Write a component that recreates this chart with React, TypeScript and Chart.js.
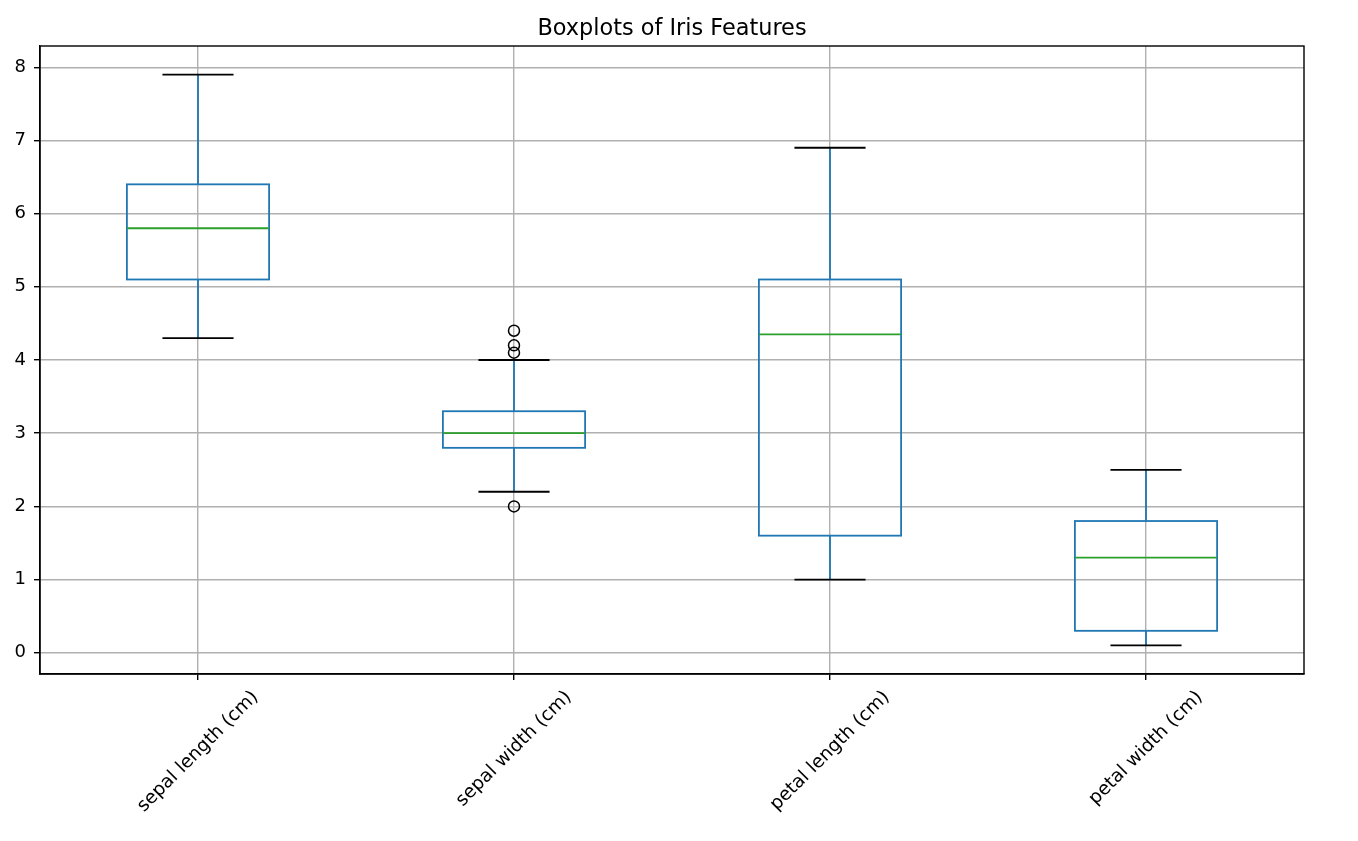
import { Chart, registerables, type Plugin } from "chart.js";
import { useEffect, useRef } from "react";

Chart.register(...registerables);

const features = ["sepal length (cm)", "sepal width (cm)", "petal length (cm)", "petal width (cm)"];
const positions = [1, 2, 3, 4];
const whiskerLow = [4.3, 2.2, 1.0, 0.1];
const q1 = [5.1, 2.8, 1.6, 0.3];
const medians = [5.8, 3.0, 4.35, 1.3];
const q3 = [6.4, 3.3, 5.1, 1.8];
const whiskerHigh = [7.9, 4.0, 6.9, 2.5];
const outlierPos = [2, 2, 2, 2];
const outlierValues = [4.4, 4.1, 4.2, 2.0];
const yTicks = [0, 1, 2, 3, 4, 5, 6, 7, 8];

const BOX_W = 0.45;
const CAP_W = 0.225;
const FONT = "DejaVu Sans";

export default function App() {
  const canvasRef = useRef<HTMLCanvasElement>(null);

  useEffect(() => {
    if (!canvasRef.current) return;

    const boxPlugin: Plugin = {
      id: "boxes",
      beforeDatasetsDraw(chart) {
        const { ctx, scales } = chart;
        const x = scales.x;
        const y = scales.y;
        ctx.save();
        positions.forEach((p, i) => {
          const cx = x.getPixelForValue(p);
          const bl = x.getPixelForValue(p - BOX_W / 2);
          const br = x.getPixelForValue(p + BOX_W / 2);
          const cl = x.getPixelForValue(p - CAP_W / 2);
          const cr = x.getPixelForValue(p + CAP_W / 2);
          const yq1 = y.getPixelForValue(q1[i]);
          const yq3 = y.getPixelForValue(q3[i]);
          const ylo = y.getPixelForValue(whiskerLow[i]);
          const yhi = y.getPixelForValue(whiskerHigh[i]);
          const ymed = y.getPixelForValue(medians[i]);
          ctx.lineWidth = 1.8;
          ctx.strokeStyle = "#1f77b4";
          // whiskers
          ctx.beginPath();
          ctx.moveTo(cx, yq3);
          ctx.lineTo(cx, yhi);
          ctx.moveTo(cx, yq1);
          ctx.lineTo(cx, ylo);
          ctx.stroke();
          // box
          ctx.strokeRect(bl, yq3, br - bl, yq1 - yq3);
          // caps
          ctx.strokeStyle = "#000000";
          ctx.beginPath();
          ctx.moveTo(cl, yhi);
          ctx.lineTo(cr, yhi);
          ctx.moveTo(cl, ylo);
          ctx.lineTo(cr, ylo);
          ctx.stroke();
          // median
          ctx.strokeStyle = "#2ca02c";
          ctx.beginPath();
          ctx.moveTo(bl, ymed);
          ctx.lineTo(br, ymed);
          ctx.stroke();
        });
        ctx.restore();
      },
      afterDraw(chart) {
        const { ctx, chartArea, scales } = chart;
        ctx.save();
        // frame
        ctx.strokeStyle = "#000000";
        ctx.lineWidth = 1.4;
        ctx.strokeRect(chartArea.left, chartArea.top, chartArea.right - chartArea.left, chartArea.bottom - chartArea.top);
        // rotated x labels, centred under the tick
        ctx.font = `18.5px "${FONT}"`;
        ctx.fillStyle = "#000000";
        ctx.textAlign = "center";
        ctx.textBaseline = "middle";
        const h = 21.5;
        positions.forEach((p, i) => {
          const w = ctx.measureText(features[i]).width;
          const bw = (w + h) / Math.SQRT2;
          const tx = scales.x.getPixelForValue(p);
          const ty = chartArea.bottom + 12.6 + bw / 2;
          ctx.save();
          ctx.translate(tx, ty);
          ctx.rotate(-Math.PI / 4);
          ctx.fillText(features[i], 0, 0);
          ctx.restore();
        });
        // title
        ctx.font = `22.4px "${FONT}"`;
        ctx.textBaseline = "alphabetic";
        ctx.fillText("Boxplots of Iris Features", (chartArea.left + chartArea.right) / 2, chartArea.top - 11);
        ctx.restore();
      },
    };

    const chart = new Chart(canvasRef.current, {
      type: "scatter",
      data: {
        datasets: [
          {
            label: "outliers",
            data: outlierPos.map((p, i) => ({ x: p, y: outlierValues[i] })),
            pointStyle: "circle",
            pointRadius: 5.5,
            pointBorderWidth: 1.5,
            pointBorderColor: "#000000",
            pointBackgroundColor: "rgba(0,0,0,0)",
          },
        ],
      },
      options: {
        responsive: true,
        maintainAspectRatio: false,
        animation: false,
        events: [],
        layout: { autoPadding: false, padding: { top: 46, right: 54, left: 0, bottom: 0 } },
        plugins: { legend: { display: false }, tooltip: { enabled: false }, title: { display: false } },
        scales: {
          x: {
            type: "linear",
            min: 0.5,
            max: 4.5,
            afterBuildTicks: (s) => {
              s.ticks = positions.map((v) => ({ value: v }));
            },
            afterFit: (s) => {
              s.height = 167;
            },
            ticks: { display: false },
            grid: { color: "#b0b0b0", lineWidth: 1.4, tickColor: "#000000", tickLength: 6, tickWidth: 1.4 },
            border: { display: true, color: "#000000", width: 1.4 },
          },
          y: {
            type: "linear",
            min: -0.29,
            max: 8.29,
            afterBuildTicks: (s) => {
              s.ticks = yTicks.map((v) => ({ value: v }));
            },
            afterFit: (s) => {
              s.width = 40;
            },
            ticks: { color: "#000000", padding: 8, font: { family: FONT, size: 18 } },
            grid: { color: "#b0b0b0", lineWidth: 1.4, tickColor: "#000000", tickLength: 6, tickWidth: 1.4 },
            border: { display: true, color: "#000000", width: 1.4 },
          },
        },
      },
      plugins: [boxPlugin],
    });
    return () => {
      chart.destroy();
    };
  }, []);

  return (
    <div style={{ position: "absolute", left: 0, top: 0, width: 1358, height: 841, background: "#ffffff" }}>
      <canvas ref={canvasRef} />
    </div>
  );
}
